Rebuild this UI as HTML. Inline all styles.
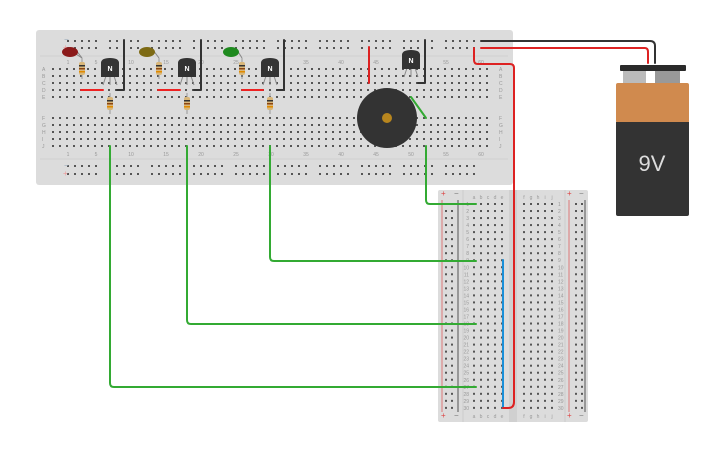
<!DOCTYPE html>
<html><head><meta charset="utf-8"><style>
html,body{margin:0;padding:0;background:#fff;width:725px;height:453px;overflow:hidden}
svg{display:block}
</style></head><body>
<svg id="s" width="725" height="453" xmlns="http://www.w3.org/2000/svg" font-family="Liberation Sans, sans-serif">
<rect x="36" y="30" width="477" height="155" rx="3" fill="#dcdcdc"/>
<line x1="40" y1="56" x2="508" y2="56" stroke="#cfcfcf"/>
<line x1="40" y1="159" x2="508" y2="159" stroke="#cfcfcf"/>
<rect x="438" y="190" width="150" height="232" rx="2" fill="#dcdcdc"/>
<rect x="509" y="190" width="8" height="232" fill="#d0d0d0"/>
<line x1="463" y1="190" x2="463" y2="422" stroke="#cbcbcb"/>
<line x1="565" y1="190" x2="565" y2="422" stroke="#cbcbcb"/>
<g id="holes" fill="#555"></g>
<g id="labels" fill="#999" font-size="5"></g>
<line x1="442" y1="200" x2="442" y2="412" stroke="#d77" stroke-width="1"/>
<line x1="458" y1="200" x2="458" y2="412" stroke="#555" stroke-width="1"/>
<line x1="569" y1="200" x2="569" y2="412" stroke="#d77" stroke-width="1"/>
<line x1="585" y1="200" x2="585" y2="412" stroke="#555" stroke-width="1"/>
<text x="441" y="196" fill="#d44" font-size="8">+</text><text x="454" y="196" fill="#777" font-size="8">−</text>
<text x="567" y="196" fill="#d44" font-size="8">+</text><text x="579" y="196" fill="#777" font-size="8">−</text>
<text x="441" y="418" fill="#d44" font-size="8">+</text><text x="454" y="418" fill="#777" font-size="8">−</text>
<text x="567" y="418" fill="#d44" font-size="8">+</text><text x="579" y="418" fill="#777" font-size="8">−</text>
<text x="64" y="42" fill="#9ab" font-size="8">−</text><text x="63" y="50" fill="#e99" font-size="8">+</text>
<text x="64" y="168" fill="#9ab" font-size="8">−</text><text x="63" y="176" fill="#e99" font-size="8">+</text>
<g fill="none" stroke-linejoin="round" stroke-linecap="round">
<path d="M124 40 V90 H117" stroke="#333" stroke-width="2"/>
<path d="M201 40 V90 H194" stroke="#333" stroke-width="2"/>
<path d="M284 40 V90 H277" stroke="#333" stroke-width="2"/>
<path d="M425 40 V83 H418" stroke="#333" stroke-width="2"/>
<path d="M369 47 V83" stroke="#d22" stroke-width="2"/>
<path d="M81 90 H103 M158 90 H180 M242 90 H263" stroke="#e22" stroke-width="2"/>
<path d="M110 146 V383 Q110 387 114 387 H476" stroke="#3a3" stroke-width="2"/>
<path d="M187 146 V320 Q187 324 191 324 H476" stroke="#3a3" stroke-width="2"/>
<path d="M270 146 V257 Q270 261 274 261 H476" stroke="#3a3" stroke-width="2"/>
<path d="M426 146 V200 Q426 204 430 204 H476" stroke="#3a3" stroke-width="2"/>
<path d="M411 97 L426 118" stroke="#3a3" stroke-width="2"/>
<path d="M503 260 V408" stroke="#1a8fd8" stroke-width="2"/>
<path d="M474 48 V60 Q474 64 478 64 H510 Q514 64 514 68 V402 Q514 408 508 408 H503" stroke="#d22" stroke-width="2"/>
<path d="M481 41 H650 Q655 41 655 46 V63" stroke="#333" stroke-width="2"/>
<path d="M481 48 H645 Q648 48 648 52 V63" stroke="#d22" stroke-width="2"/>
</g>
<!-- LEDs -->
<g>
<line x1="76" y1="50" x2="82" y2="58" stroke="#888"/><line x1="76" y1="54" x2="82" y2="58" stroke="#888"/>
<ellipse cx="70" cy="52" rx="8" ry="5" fill="#8b1a1a"/>
<line x1="153" y1="50" x2="159" y2="58" stroke="#888"/>
<ellipse cx="147" cy="52" rx="8" ry="5" fill="#7d6a14"/>
<line x1="237" y1="50" x2="242" y2="58" stroke="#888"/>
<ellipse cx="231" cy="52" rx="8" ry="5" fill="#1f8a1f"/>
</g>
<!-- resistors -->
<g id="res"></g>
<!-- transistors -->
<g id="tr"></g>
<circle cx="387" cy="118" r="30" fill="#333"/>
<circle cx="387" cy="118" r="5" fill="#b8861e"/>
<!-- battery -->
<rect x="623" y="70" width="23" height="14" fill="#bbb"/>
<rect x="655" y="70" width="25" height="14" fill="#999"/>
<rect x="620" y="65" width="66" height="6" rx="1" fill="#2a2a2a"/>
<rect x="616" y="83" width="73" height="40" rx="2" fill="#d08a4e"/>
<rect x="616" y="122" width="73" height="94" rx="2" fill="#333"/>
<rect x="616" y="122" width="73" height="4" fill="#333"/>
<text x="652" y="171" fill="#ddd" font-size="22" text-anchor="middle">9V</text>
</svg>
<script>
const NS="http://www.w3.org/2000/svg";
const H=document.getElementById('holes'),L=document.getElementById('labels');
function hole(x,y){const r=document.createElementNS(NS,'rect');r.setAttribute('x',x-1);r.setAttribute('y',y-1);r.setAttribute('width',2);r.setAttribute('height',2);H.appendChild(r);}
function txt(x,y,t,a){const e=document.createElementNS(NS,'text');e.setAttribute('x',x);e.setAttribute('y',y);if(a)e.setAttribute('text-anchor',a);e.textContent=t;L.appendChild(e);}
// main board
[69,76,83,90,97,118,125,132,139,146].forEach(y=>{for(let k=0;k<63;k++)hole(53+7*k,y);});
[41,48,166,174].forEach(y=>{for(let g=0;g<10;g++)for(let i=0;i<5;i++)hole(68+42*g+7*i,y);});
for(let n=1;n<=60;n++){if(n==1||n%5==0){const x=68+7*(n-1);txt(x,64,n,'middle');txt(x,156,n,'middle');}}
['A','B','C','D','E'].forEach((c,i)=>{txt(42,71+7*i,c);txt(499,71+7*i,c);});
['F','G','H','I','J'].forEach((c,i)=>{txt(42,120+7*i,c);txt(499,120+7*i,c);});
// small board
for(let r=0;r<30;r++){const y=204+7.03*r;
 [446,452,576,582].forEach(x=>hole(x,y));
 [474,481,488,495,502,524,531,538,545,552].forEach(x=>hole(x,y));
 txt(469,y+2,r+1,'end');txt(558,y+2,r+1);}
const sm=document.createElementNS(NS,'g');
['a','b','c','d','e'].forEach((c,i)=>{txt(474+7*i,199,c,'middle');txt(474+7*i,418,c,'middle');});
['f','g','h','i','j'].forEach((c,i)=>{txt(524+7*i,199,c,'middle');txt(524+7*i,418,c,'middle');});
L.querySelectorAll('text').forEach(t=>{if(+t.getAttribute('y')<200||+t.getAttribute('y')>410){}});
// resistors
const R=document.getElementById('res');
function res(x,y1,y2){R.innerHTML+=`<line x1="${x}" y1="${y1}" x2="${x}" y2="${y2}" stroke="#999"/><rect x="${x-3}" y="${y1+4}" width="6" height="${y2-y1-8}" rx="2" fill="#d9b77a"/><rect x="${x-3}" y="${y1+7}" width="6" height="1.5" fill="#333"/><rect x="${x-3}" y="${y1+10}" width="6" height="1.5" fill="#8b4513"/><rect x="${x-3}" y="${y1+13}" width="6" height="1.5" fill="#e08a00"/>`;}
res(82,58,79);res(159,58,79);res(242,58,79);
res(110,93,114);res(187,93,114);res(270,93,114);
const T=document.getElementById('tr');
function tr(x,y){T.innerHTML+=`<line x1="${x-4}" y1="${y+18}" x2="${x-7}" y2="${y+27}" stroke="#888"/><line x1="${x}" y1="${y+18}" x2="${x}" y2="${y+27}" stroke="#888"/><line x1="${x+4}" y1="${y+18}" x2="${x+7}" y2="${y+27}" stroke="#888"/><path d="M${x-9} ${y+19} V${y+5} Q${x-9} ${y} ${x} ${y} Q${x+9} ${y} ${x+9} ${y+5} V${y+19} Z" fill="#333"/><text x="${x}" y="${y+13}" fill="#fff" font-size="7" text-anchor="middle" font-weight="bold">N</text>`;}
tr(110,58);tr(187,58);tr(270,58);tr(411,50);
</script>
</body></html>
